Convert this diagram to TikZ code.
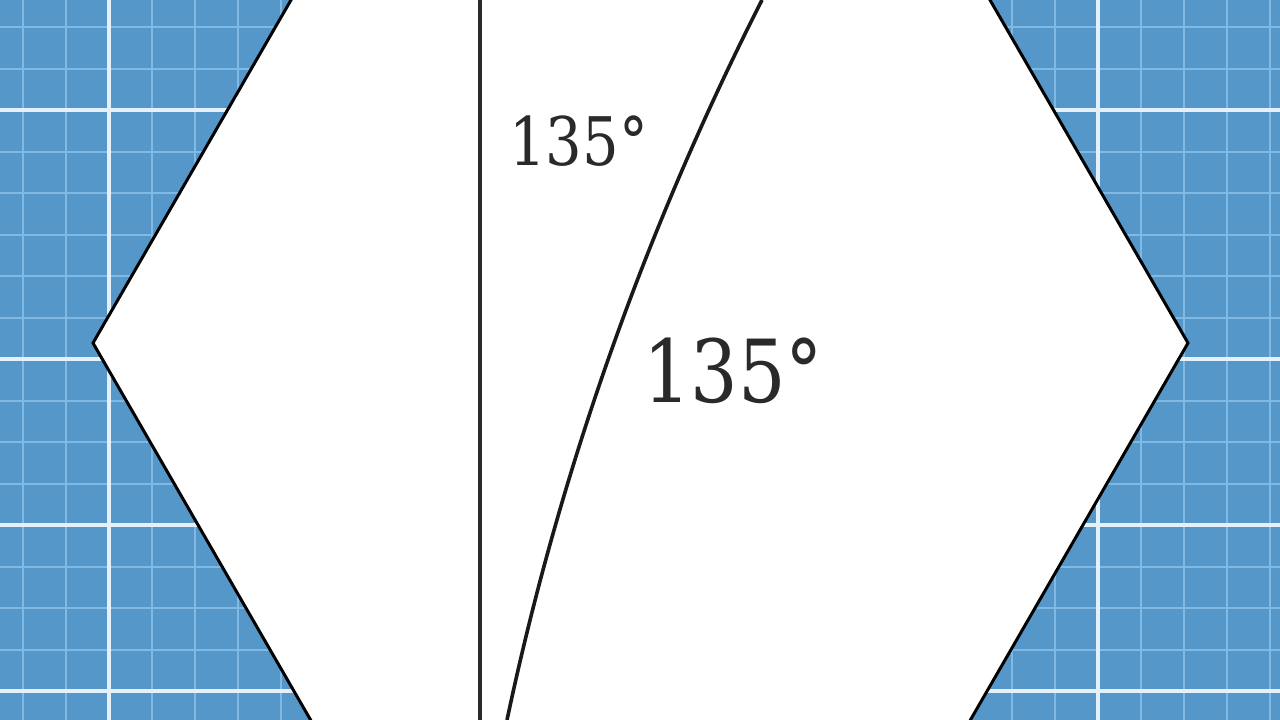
\documentclass[tikz,border=0pt]{standalone}
\usepackage{fontspec}
\newfontfamily\anglefont[FakeStretch=0.86]{DejaVu Serif}
\definecolor{matblue}{RGB}{86,151,201}
\definecolor{minorline}{RGB}{130,185,227}
\definecolor{majorline}{RGB}{228,241,251}
\definecolor{inkgray}{RGB}{42,42,42}
\tikzset{
  minorgrid/.style={minorline,line width=2pt},
  majorgrid/.style={majorline,line width=3.2pt},
  cutline/.style={line width=3.6pt},
  anglelabel/.style={inner sep=0pt,anchor=base west,text=inkgray}
}
\begin{document}
\begin{tikzpicture}[x=1pt,y=-1pt]
 \useasboundingbox (0,0) rectangle (1280,720);
 \clip (0,0) rectangle (1280,720);
 % cutting mat
 \fill[matblue] (0,0) rectangle (1280,720);
 \foreach \k in {0,...,29} \draw[minorgrid] (23+43*\k,0) -- (23+43*\k,720);
 \foreach \k in {0,...,17} \draw[minorgrid] (0,27+41.5*\k) -- (1280,27+41.5*\k);
 \draw[majorgrid] (109,0) -- (109,720);
 \draw[majorgrid] (1098,0) -- (1098,720);
 \draw[majorgrid] (0,110) -- (1280,110);
 \draw[majorgrid] (0,359) -- (1280,359);
 \draw[majorgrid] (0,525) -- (1280,525);
 \draw[majorgrid] (0,691) -- (1280,691);
 % hexagon
 \draw[fill=white,line width=3pt,line join=miter] (93,343) -- (366.75,-131.2) -- (914.25,-131.2)
   -- (1188,343) -- (914.25,817.2) -- (366.75,817.2) -- cycle;
 % seams
 \draw[cutline,inkgray] (480,-10) -- (480,730);
 \draw[cutline,black!90] (762,0) .. controls (646,228) and (560,470) .. (507,720);
 % angles
 \node[anglelabel,font=\anglefont\fontsize{67}{67}\selectfont] (upper) at (509,165) {135°};
 \node[anglelabel,font=\anglefont\fontsize{87}{87}\selectfont] (lower) at (643,402) {135°};
\end{tikzpicture}
\end{document}
